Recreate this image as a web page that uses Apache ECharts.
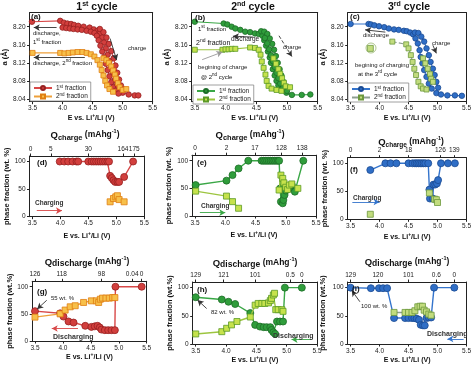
<!DOCTYPE html>
<html><head><meta charset="utf-8">
<script src="https://cdn.jsdelivr.net/npm/echarts@6/dist/echarts.min.js"></script>
<style>html,body{margin:0;padding:0;background:#fff}#c{width:474px;height:365px}</style>
</head><body><div id="c"></div>
<script>
// ---------- tick labels ----------
const X_TICKS = [3.5, 4.0, 4.5, 5.0, 5.5];
const A_TICKS = [8.04, 8.08, 8.12, 8.16, 8.20];
const P_TICKS = [0, 50, 100];

// ---------- (a) 1st cycle, lattice parameter ----------
const aRed1E = [3.49,3.96,4.02,4.08,4.14,4.19,4.26,4.35,4.45,4.52,4.58,4.62,4.66,4.69,4.72,4.75,4.78,4.81,4.84,4.87,4.90,4.94,5.00,5.10,5.20,5.26];
const aRed1A = [8.211,8.213,8.209,8.207,8.206,8.204,8.202,8.200,8.198,8.194,8.191,8.185,8.176,8.165,8.152,8.138,8.124,8.110,8.096,8.082,8.070,8.060,8.054,8.050,8.048,8.048];
const aRed2E = [4.00,4.06,4.12,4.18,4.25,4.32,4.40,4.47,4.53,4.57,4.60,4.63,4.66,4.69,4.72,4.75,4.78,4.81,4.84,4.88,4.93];
const aRed2A = [8.198,8.197,8.196,8.195,8.194,8.193,8.191,8.189,8.186,8.180,8.170,8.158,8.145,8.132,8.118,8.104,8.090,8.077,8.066,8.058,8.052];
const aRed3E = [4.62,4.68,4.73,4.77,4.81,4.85,4.88,4.91,4.94,4.97,5.00];
const aRed3A = [8.195,8.188,8.176,8.162,8.146,8.130,8.114,8.098,8.083,8.070,8.062];
const aOr1E = [3.50,3.96,4.03,4.10,4.17,4.25,4.33,4.40,4.47,4.53,4.58,4.62,4.65,4.68,4.71,4.74,4.78,4.84];
const aOr1A = [8.142,8.142,8.141,8.142,8.143,8.144,8.144,8.142,8.139,8.134,8.126,8.116,8.104,8.092,8.080,8.070,8.062,8.056];
const aOr2E = [4.68,4.73,4.77,4.81,4.84,4.87,4.89,4.92,4.95,5.00,5.06];
const aOr2A = [8.130,8.126,8.120,8.112,8.103,8.094,8.085,8.075,8.066,8.060,8.062];

// ---------- (b) 2nd cycle ----------
const bG1E = [3.50,3.97,4.03,4.10,4.16,4.24,4.32,4.40,4.48,4.54,4.60,4.63,4.66,4.69,4.72,4.74,4.77,4.80,4.83,4.86,4.91,4.99,5.08,5.24,5.38];
const bG1A = [8.211,8.207,8.205,8.200,8.196,8.193,8.189,8.188,8.185,8.184,8.180,8.170,8.158,8.145,8.132,8.120,8.106,8.092,8.080,8.070,8.061,8.054,8.049,8.049,8.050];
const bG2E = [4.58,4.63,4.68,4.72,4.76,4.79,4.82,4.85,4.88,4.91,4.94,4.97,5.00];
const bG2A = [8.190,8.189,8.184,8.174,8.162,8.149,8.135,8.120,8.106,8.092,8.078,8.066,8.058];
const bG3E = [4.64,4.68,4.71,4.74,4.77,4.80,4.83,4.86,4.89,4.93];
const bG3A = [8.175,8.163,8.150,8.137,8.124,8.111,8.098,8.086,8.074,8.064];
const bL1E = [3.50,3.95,4.00,4.05,4.10,4.16,4.40,4.48,4.54,4.57,4.59,4.62,4.65,4.67,4.70,4.75,4.83,4.91];
const bL1A = [8.149,8.149,8.150,8.150,8.151,8.151,8.154,8.153,8.149,8.138,8.123,8.109,8.094,8.080,8.069,8.063,8.060,8.058];
const bL2E = [4.78,4.82,4.86,4.89,4.92,4.95,4.98,5.05];
const bL2A = [8.130,8.118,8.106,8.096,8.086,8.076,8.068,8.066];

// ---------- (c) 3rd cycle ----------
const cB1E = [3.50,3.81,3.85,3.91,3.99,4.08,4.16,4.25,4.33,4.42,4.47,4.53,4.58,4.62,4.66,4.69,4.71,4.74,4.77,4.81,4.85,4.90,4.98,5.06,5.17,5.30,5.42];
const cB1A = [8.206,8.206,8.205,8.203,8.201,8.199,8.196,8.194,8.193,8.191,8.190,8.187,8.183,8.174,8.163,8.148,8.133,8.119,8.104,8.089,8.074,8.063,8.053,8.050,8.048,8.048,8.047];
const cB2E = [4.61,4.67,4.72,4.77,4.81,4.85,4.88,4.92,4.95,4.98,5.01];
const cB2A = [8.187,8.186,8.178,8.167,8.152,8.137,8.122,8.107,8.093,8.078,8.065];
const cL0E = [3.84];
const cL0A = [8.152];
const cL1E = [4.22,4.46,4.50,4.54,4.57,4.60,4.63,4.67,4.71,4.75,4.81];
const cL1A = [8.167,8.161,8.152,8.137,8.122,8.107,8.093,8.078,8.068,8.063,8.061];
const cL2E = [4.75,4.79,4.83,4.87,4.89,4.92];
const cL2A = [8.130,8.119,8.107,8.095,8.085,8.078];

// ---------- (d) phase fraction, 1st charge ----------
const dRedE = [3.99,4.07,4.14,4.22,4.29,4.32,4.50,4.56,4.60,4.64,4.68,4.72,4.76,4.80,4.84,4.87,4.89,4.92,4.95,4.98,5.02,5.05,5.14,5.30];
const dRedP = [100,100,100,100,100,100,100,100,100,100,100,100,100,100,100,100,74,70,66,63,63,63,72,100];
const dOrE = [4.89,4.95,4.99,5.02,5.05,5.14];
const dOrP = [27,33,36,38,31,27];
const dQE = [3.47,3.83,4.50,5.12,5.32];
const dQL = ['0','5','30','164','175'];

// ---------- (e) 2nd charge ----------
const eG1E = [3.51,4.02,4.12,4.22,4.38,4.60,4.63,4.66,4.69,4.72,4.75,4.78,4.81,4.84,4.87,4.89,4.91,4.92,4.95,4.96,4.98,5.00,5.03,5.06,5.10,5.15,5.29];
const eG1P = [56,64,74,86,100,100,100,100,100,100,100,100,100,100,100,100,50,26,23,29,38,46,53,50,56,44,100];
const eL1E = [3.51,4.02,4.12,4.22];
const eL1P = [45,36,26,14];
const eL2E = [4.89,4.92,4.95,4.97,5.00,5.03,5.06,5.10,5.20];
const eL2P = [47,74,68,60,52,48,56,58,50];
const eQE = [3.50,4.02,4.49,4.93,5.27];
const eQL = ['0','2','17','128','138'];

// ---------- (f) 3rd charge ----------
const fBE = [3.84,4.10,4.19,4.29,4.50,4.57,4.61,4.64,4.67,4.70,4.73,4.76,4.79,4.84,4.86,4.87,4.92,4.93,4.96,4.99,5.01,5.06,5.18,5.30];
const fBP = [88,100,100,100,100,100,100,100,100,100,100,100,100,100,53,37,37,62,62,64,70,100,100,100];
const fL0E = [3.84];
const fL0P = [9];
const fL1E = [4.86,4.95,4.98,5.00];
const fL1P = [47,36,35,30];
const fQE = [3.50,4.00,4.50,5.05,5.29];
const fQL = ['0','2','18','126','139'];

// ---------- (g) 1st discharge ----------
const gRedE = [3.50,3.95,4.01,4.10,4.19,4.40,4.51,4.57,4.62,4.66,4.69,4.75,4.81,4.87,4.93,4.94,5.41];
const gRedP = [55,51,45,36,34,28,26,27,28,25,21,20,20,20,20,100,100];
const gOrE = [3.50,3.95,4.04,4.13,4.22,4.37,4.51,4.60,4.64,4.67,4.71,4.77,4.83,4.89,4.93];
const gOrP = [44,50,57,63,65,71,74,74,71,77,79,79,79,80,80];
const gQE = [3.50,3.98,4.69,5.24,5.41];
const gQL = ['126','118','98','0.04','0'];

// ---------- (h) 2nd discharge ----------
const hGE = [3.50,3.93,4.04,4.15,4.40,4.48,4.56,4.62,4.67,4.73,4.75,4.78,4.81,4.84,4.89,4.94,4.97,5.25];
const hGP = [83,79,75,71,55,34,31,30,30,30,25,21,18,40,40,40,100,100];
const hLE = [3.50,3.93,4.01,4.09,4.18,4.40,4.48,4.53,4.59,4.64,4.70,4.73,4.75,4.78,4.80,4.82,4.86,4.92,4.94];
const hLP = [18,22,28,34,40,48,69,72,72,72,73,77,81,87,90,61,61,61,58];
const hQE = [3.50,3.96,4.48,5.06,5.25];
const hQL = ['129','121','101','0.5','0'];

// ---------- (i) 3rd discharge ----------
const iBE = [3.50,3.85,3.99,4.06,4.13,4.25,4.44,4.50,4.56,4.60,4.64,4.68,4.71,4.75,4.78,4.81,4.85,4.89,4.94,5.29];
const iBP = [100,99,99,99,99,46,46,46,46,46,45,43,34,33,33,46,47,47,100,100];
const iLE = [4.25,4.44,4.50,4.56,4.61,4.66,4.70,4.74,4.77,4.81,4.85,4.89];
const iLP = [56,56,56,56,59,66,67,67,60,57,53,51];
const iQE = [3.50,3.97,4.50,4.98,5.29];
const iQL = ['129','120','101','0.6','0'];

// ================= layout & styles =================
const FF = '"Liberation Sans", Arial, "DejaVu Sans", sans-serif';
const GRIDS = [
  {left:29.3, top:12.7, width:123.4, height:89},
  {left:191.7, top:12.7, width:126, height:89},
  {left:347.7, top:12.7, width:121.6, height:89},
  {left:29.5, top:156, width:114.8, height:60.7},
  {left:192, top:155.2, width:124, height:60.8},
  {left:347.7, top:157.7, width:121.6, height:61.6},
  {left:32.2, top:281.3, width:114.5, height:59.7},
  {left:192.7, top:282, width:124.3, height:62.3},
  {left:347.7, top:282, width:121.6, height:62}
];
const QE = [null,null,null,dQE,eQE,fQE,gQE,hQE,iQE];
const QL = [null,null,null,dQL,eQL,fQL,gQL,hQL,iQL];
const XGAP = [10.6,10.6,10.6,14.3,14,12.4,10.7,8,8.3];
const YGAP = [18,16,19,18.7,14.2,18,16.7,16,21];
const AX = '#222';
const TICK_FS = 6.5;
const XNAME = '{n|E vs. Li}{p|+}{n|/Li (V)}';
const NAME_STYLE = {fontSize:7, fontWeight:'bold', color:'#111', fontFamily:FF,
  rich:{n:{fontSize:7,fontWeight:'bold',lineHeight:10,fontFamily:FF,color:'#111'},
        p:{fontSize:5,fontWeight:'bold',verticalAlign:'top',lineHeight:5,fontFamily:FF,color:'#111'}}};

const xAxis = [], yAxis = [];
GRIDS.forEach((g, gi) => {
  const top = gi < 3;
  const lineSt = {show:true, onZero:false, lineStyle:{color:AX, width:1}};
  const outTick = vals => ({show:true, inside:false, length:2.5, customValues:vals, lineStyle:{color:AX}});
  xAxis.push({gridIndex:gi, type:'value', min:3.45, max:5.5, position:'bottom',
    axisLine:lineSt, axisTick:outTick(X_TICKS),
    axisLabel:{customValues:X_TICKS, formatter:v=>v.toFixed(1), fontSize:TICK_FS, margin:3.5, color:'#222', fontFamily:FF,
      showMinLabel:true, showMaxLabel:true, hideOverlap:false},
    splitLine:{show:false}, name:XNAME, nameLocation:'middle', nameGap:XGAP[gi], nameTextStyle:NAME_STYLE});
  if (top) {
    xAxis.push({gridIndex:gi, type:'value', min:3.45, max:5.5, position:'top',
      axisLine:lineSt, axisTick:{show:false}, axisLabel:{show:false}, splitLine:{show:false}});
  } else {
    const qe = QE[gi], ql = QL[gi];
    xAxis.push({gridIndex:gi, type:'value', min:3.45, max:5.5, position:'top',
      axisLine:lineSt, axisTick:outTick(qe),
      axisLabel:{customValues:qe, fontSize:TICK_FS, margin:3.5, color:'#222', fontFamily:FF,
        showMinLabel:true, showMaxLabel:true, hideOverlap:false,
        formatter:v=>{let b=0; for(let k=0;k<qe.length;k++){ if(Math.abs(qe[k]-v)<Math.abs(qe[b]-v)) b=k;} return ql[b];}},
      splitLine:{show:false}});
  }
  const yName = top ? 'a (Å)' : (gi < 6 ? 'phase fraction (wt. %)' : 'phase fraction (wt.%)');
  const yt = top ? A_TICKS : P_TICKS;
  yAxis.push({gridIndex:gi, type:'value', min: top?8.034:0, max: top?8.231:110,
    axisLine:lineSt, axisTick:outTick(yt),
    axisLabel:{customValues:yt, formatter: top ? (v=>v.toFixed(2)) : (v=>String(Math.round(v))), fontSize:TICK_FS, margin:4, color:'#222', fontFamily:FF,
      showMinLabel:true, showMaxLabel:true},
    splitLine:{show:false}, name:yName, nameLocation:'middle', nameGap:YGAP[gi], nameRotate:90,
    nameTextStyle:{fontSize:7.5, fontWeight:'bold', color:'#111', fontFamily:FF}});
  yAxis.push({gridIndex:gi, type:'value', min: top?8.034:0, max: top?8.231:110, position:'right',
    axisLine:lineSt, axisTick:{show:false}, axisLabel:{show:false}, splitLine:{show:false}});
});

const ST = {
  red:   {sym:'circle', fill:'#d23f3d', border:'#962020', line:'#d84848'},
  orange:{sym:'rect',   fill:'#f7c04a', border:'#e07d12', line:'#eea03a'},
  green: {sym:'circle', fill:'#2f9d3b', border:'#1d6c27', line:'#3aa746'},
  lgreen:{sym:'rect',   fill:'#c6e24c', border:'#5c9a26', line:'#9dc540'},
  blue:  {sym:'circle', fill:'#2f6ec6', border:'#1b4a92', line:'#3474cc'},
  pgreen:{sym:'rect',   fill:'#c2dc7e', border:'#6c983c', line:'#8e9e90'}
};
const zip = (E, V) => E.map((e, k) => [e, V[k]]);
function S(name, gi, E, V, st, o) {
  o = o || {};
  const s = ST[st];
  const big = gi >= 3;
  const size = o.size || (s.sym === 'circle' ? (big ? 7 : 5.5) : (big ? 6 : 5));
  return Object.assign({
    type:'line', name, xAxisIndex:2*gi, yAxisIndex:2*gi, data:zip(E, V),
    symbol:s.sym, symbolSize:size, showAllSymbol:true, animation:false, silent:true,
    lineStyle:{color:s.line, width: big ? 1.4 : 1.1, type: o.dash ? 'dashed' : 'solid'},
    itemStyle:{color:s.fill, borderColor:s.border, borderWidth:0.8},
    z: o.z || 3
  }, o.extra || {});
}
function arrows(list, color) {
  return {silent:true, symbol:['none','arrow'], symbolSize:[5,6], animation:false,
    label:{show:false}, lineStyle:{color:color||'#333', width:0.9, type:'solid'},
    data:list.map(a => [{coord:[a[0],a[1]], lineStyle:a[4]?{type:a[4], color:a[5]||color||'#333', width:0.9}:undefined},{coord:[a[2],a[3]]}])};
}

const series = [
  // (a)
  S('a1',0,aRed1E,aRed1A,'red',{extra:{markLine:arrows([[3.90,8.198,3.52,8.198],[4.37,8.132,3.52,8.132],[4.79,8.174,4.90,8.126]])}}),
  S('a1',0,aRed2E,aRed2A,'red'),
  S('a1',0,aRed3E,aRed3A,'red'),
  S('a2',0,aOr1E,aOr1A,'orange',{z:4}),
  S('a2',0,aOr2E,aOr2A,'orange',{z:4}),
  // (b)
  S('b1',1,bG1E,bG1A,'green',{extra:{markLine:arrows([[4.45,8.177,4.12,8.179],[4.87,8.180,5.08,8.134,'dashed'],[3.62,8.127,3.95,8.144,'solid','#999']])}}),
  S('b1',1,bG2E,bG2A,'green'),
  S('b1',1,bG3E,bG3A,'green'),
  S('b2',1,bL1E,bL1A,'lgreen',{z:4}),
  S('b2',1,bL2E,bL2A,'lgreen',{z:4}),
  // (c)
  S('c1',2,cB1E,cB1A,'blue',{extra:{markLine:arrows([[4.10,8.188,3.75,8.193],[4.92,8.159,4.98,8.141]])}}),
  S('c1',2,cB2E,cB2A,'blue'),
  S('c2',2,cL0E,cL0A,'pgreen',{z:4, size:6}),
  S('c2',2,cL1E,cL1A,'pgreen',{z:4, dash:true}),
  S('c2',2,cL2E,cL2A,'pgreen',{z:4}),
  // (d)
  S('d1',3,dRedE,dRedP,'red',{extra:{markLine:arrows([[3.58,11,4.03,11]],'#d84848')}}),
  S('d2',3,dOrE,dOrP,'orange',{z:4}),
  // (e)
  S('e1',4,eG1E,eG1P,'green',{extra:{markLine:arrows([[3.58,6,4.00,6]],'#3aa746')}}),
  S('e2',4,eL1E,eL1P,'lgreen',{z:4}),
  S('e2',4,eL2E,eL2P,'lgreen',{z:4}),
  // (f)
  S('f1',5,fBE,fBP,'blue',{extra:{markLine:arrows([[3.53,31,4.00,31]],'#3474cc')}}),
  S('f2',5,fL0E,fL0P,'pgreen',{z:4}),
  S('f2',5,fL1E,fL1P,'pgreen',{z:4}),
  // (g)
  S('g1',6,gRedE,gRedP,'red',{extra:{markLine:arrows([[4.27,23,3.80,23,'solid','#d84848'],[3.71,75,3.54,59]])}}),
  S('g2',6,gOrE,gOrP,'orange',{z:4}),
  // (h)
  S('h1',7,hGE,hGP,'green',{extra:{markLine:arrows([[5.41,8,5.08,8,'solid','#3aa746'],[3.68,63,3.53,78]])}}),
  S('h2',7,hLE,hLP,'lgreen',{z:4}),
  // (i)
  S('i1',8,iBE,iBP,'blue',{extra:{markLine:arrows([[5.45,9,5.17,9,'solid','#3474cc'],[3.66,75,3.52,95]])}}),
  S('i2',8,iLE,iLP,'pgreen',{z:4})
];

const LEG_NAMES = {a1:'1st', a2:'2nd', b1:'1st', b2:'2nd', c1:'1st', c2:'2nd'};
function legend(left, top, names) {
  return {left, top, orient:'vertical', itemGap:1, itemWidth:18, itemHeight:5, padding:[2,3,1,3],
    borderColor:'#888', borderWidth:0.8, backgroundColor:'#fff', selectedMode:false, data:names,
    formatter: n => { const t = LEG_NAMES[n]; return '{n|' + t[0] + '}{s|' + t.slice(1) + '}{n| fraction}'; },
    textStyle:{fontSize:6.5, color:'#222', fontFamily:FF, padding:[0,0,0,-1],
      rich:{n:{fontSize:6.5, lineHeight:8, fontFamily:FF, color:'#222'}, s:{fontSize:4.5, verticalAlign:'top', lineHeight:5, fontFamily:FF, color:'#222'}}}};
}

// ---------- text annotations ----------
function richSet(main, small, bold) {
  const w = bold ? 'bold' : 'normal';
  return {n:{fontSize:main, fontWeight:w, lineHeight:main+3, fontFamily:FF, fill:'#111'},
          p:{fontSize:small, fontWeight:w, verticalAlign:'top', lineHeight:small, fontFamily:FF, fill:'#111'}};
}
function T(x, y, text, size, bold, align, color, rich) {
  return {type:'text', x, y, silent:true, z:50,
    style:{text, fontSize:size, fontWeight: bold ? 'bold' : 'normal', fontFamily:FF, fill: color || '#111',
      align: align || 'left', verticalAlign:'middle', rich: rich}};
}
const R12 = richSet(10.5, 7, true);
const R6 = richSet(6, 4.5, false);
const R7 = richSet(7, 5, false);
function QT(x, y, sub, subSize) {
  return T(x, y, '{q|Q}{s|' + sub + '}{t| (mAhg}{p|-1}{t|)}', 9.5, true, 'center', '#111', {
    q:{fontSize:9.5, fontWeight:'bold', lineHeight:13, fontFamily:FF, fill:'#111'},
    s:{fontSize:subSize, fontWeight:'bold', verticalAlign:'bottom', lineHeight:subSize+1, fontFamily:FF, fill:'#111'},
    t:{fontSize:8.5, fontWeight:'bold', lineHeight:13, fontFamily:FF, fill:'#111'},
    p:{fontSize:5.5, fontWeight:'bold', verticalAlign:'top', lineHeight:6, fontFamily:FF, fill:'#111'}});
}
const graphic = [
  T(97, 7, '{n|1}{p|st}{n| cycle}', 10.5, true, 'center', '#111', R12),
  T(253, 7, '{n|2}{p|nd}{n| cycle}', 10.5, true, 'center', '#111', R12),
  T(409, 7, '{n|3}{p|rd}{n| cycle}', 10.5, true, 'center', '#111', R12),
  T(31, 17, '(a)', 8, true), T(195, 18, '(b)', 8, true), T(350, 17, '(c)', 8, true),
  T(37, 163, '(d)', 8, true), T(197, 163, '(e)', 8, true), T(350, 170, '(f)', 8, true),
  T(37, 292, '(g)', 8, true), T(197, 290, '(h)', 8, true), T(352, 289, '(i)', 8, true),
  // (a)
  T(33, 33, 'discharge,', 6, false, 'left', '#222'),
  T(33, 42, '{n|1}{p|st}{n| fraction}', 6, false, 'left', '#222', R6),
  T(128, 48, 'charge', 6, false, 'left', '#222'),
  T(33, 63, '{n|discharge, 2}{p|nd}{n| fraction}', 6, false, 'left', '#222', R6),
  // (b)
  T(198, 29, '{n|1}{p|st}{n| fraction}', 6, false, 'left', '#222', R6),
  T(196, 43, '{n|2}{p|nd}{n| fraction}', 7, false, 'left', '#222', R7),
  T(231, 39, 'discharge', 6.5, false, 'left', '#222'),
  T(198, 67, 'begining of charge', 6, false, 'left', '#222'),
  T(201, 77, '{n|@ 2}{p|nd}{n| cycle}', 6, false, 'left', '#222', R6),
  T(283, 47, 'charge', 6, false, 'left', '#222'),
  // (c)
  T(363, 35, 'discharge', 6, false, 'left', '#222'),
  T(432, 43, 'charge', 6, false, 'left', '#222'),
  T(355, 65, 'begining of charging', 6, false, 'left', '#222'),
  T(358, 74, '{n|at the 3}{p|rd}{n| cycle}', 6, false, 'left', '#222', R6),
  // Q titles
  QT(85, 135, 'charge', 7.5), QT(250, 135, 'charge', 7.5), QT(411, 142, 'charge', 6.5),
  QT(87, 262, 'discharge', 8.5), QT(255, 263, 'discharge', 8.5), QT(407, 262, 'discharge', 8.5),
  // rows 2-3 notes
  T(35, 203, 'Charging', 6.5, true, 'left', '#333'),
  T(201, 206, 'Charging', 6.5, true, 'left', '#333'),
  T(353, 198, 'Charging', 6.5, true, 'left', '#333'),
  T(51, 298, '55 wt. %', 6, false, 'left', '#222'),
  T(53, 337, 'Discharging', 7, true, 'left', '#333'),
  T(211, 312, '82 wt. %', 6, false, 'left', '#222'),
  T(273, 336, 'Discharging', 7, true, 'left', '#333'),
  T(361, 306, '100 wt. %', 6, false, 'left', '#222'),
  T(427, 334, 'Discharging', 7, true, 'left', '#333'),
  {type:'circle', shape:{cx:371, cy:48, r:5}, silent:true, z:40, style:{fill:'none', stroke:'#9bb870', lineWidth:0.8}}
];

const chart = echarts.init(document.getElementById('c'), null, {renderer:'canvas'});
chart.setOption({
  backgroundColor:'#fff', animation:false,
  grid: GRIDS.map(g => Object.assign({containLabel:false}, g)),
  xAxis, yAxis, series,
  legend: [legend(30, 82, ['a1','a2']), legend(193, 85, ['b1','b2']), legend(348, 83, ['c1','c2'])],
  graphic
});
</script></body></html>
